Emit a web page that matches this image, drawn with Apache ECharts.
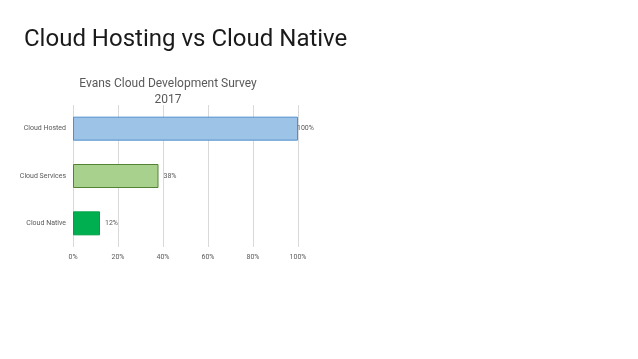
<!DOCTYPE html>
<html><head><meta charset="utf-8">
<script src="https://cdn.jsdelivr.net/npm/echarts@6/dist/echarts.min.js"></script>
<style>html,body{margin:0;padding:0;background:#fff}#c{width:638px;height:359px}</style>
</head><body><div id="c"></div>
<script>
const categories = ['Cloud Native', 'Cloud Services', 'Cloud Hosted'];
const values = [12, 38, 100];
const xTicks = [0, 20, 40, 60, 80, 100];
const fills = ['#00B050', '#A9D18E', '#9DC3E6'];
const borders = ['#00A046', '#548235', '#4F8FCF'];

const chart = echarts.init(document.getElementById('c'), null, {renderer: 'canvas'});
chart.setOption({
  backgroundColor: '#ffffff',
  animation: false,
  title: [
    {text: 'Cloud Hosting vs Cloud Native', left: 19, top: 23,
     textStyle: {fontFamily: 'Roboto', fontSize: 24, fontWeight: 'normal', color: '#1a1a1a'}},
    {text: 'Evans Cloud Development Survey\n2017', left: 163, top: 71, textAlign: 'center',
     textStyle: {fontFamily: 'Roboto', fontSize: 12, fontWeight: 'normal', color: '#595959', lineHeight: 16}}
  ],
  grid: {left: 73, right: 340, top: 105, height: 142, containLabel: false},
  xAxis: {
    type: 'value', min: xTicks[0], max: xTicks[xTicks.length - 1], interval: 20,
    axisLine: {show: false}, axisTick: {show: false},
    splitLine: {lineStyle: {color: '#d9d9d9', width: 1}},
    axisLabel: {formatter: v => v + '%', fontFamily: 'Roboto', fontSize: 7, color: '#595959', margin: 7}
  },
  yAxis: {
    type: 'category', data: categories,
    axisLine: {show: false}, axisTick: {show: false},
    axisLabel: {fontFamily: 'Roboto', fontSize: 7, color: '#595959', margin: 7}
  },
  series: [{
    type: 'bar', barWidth: 24,
    data: values.map((v, i) => ({
      value: v,
      itemStyle: {color: fills[i], borderColor: borders[i], borderWidth: 1},
      label: {distance: v >= 100 ? -1 : 5}
    })),
    label: {show: true, position: 'right', formatter: p => p.value + '%',
      fontFamily: 'Roboto', fontSize: 7, color: '#595959'}
  }]
});
</script></body></html>
